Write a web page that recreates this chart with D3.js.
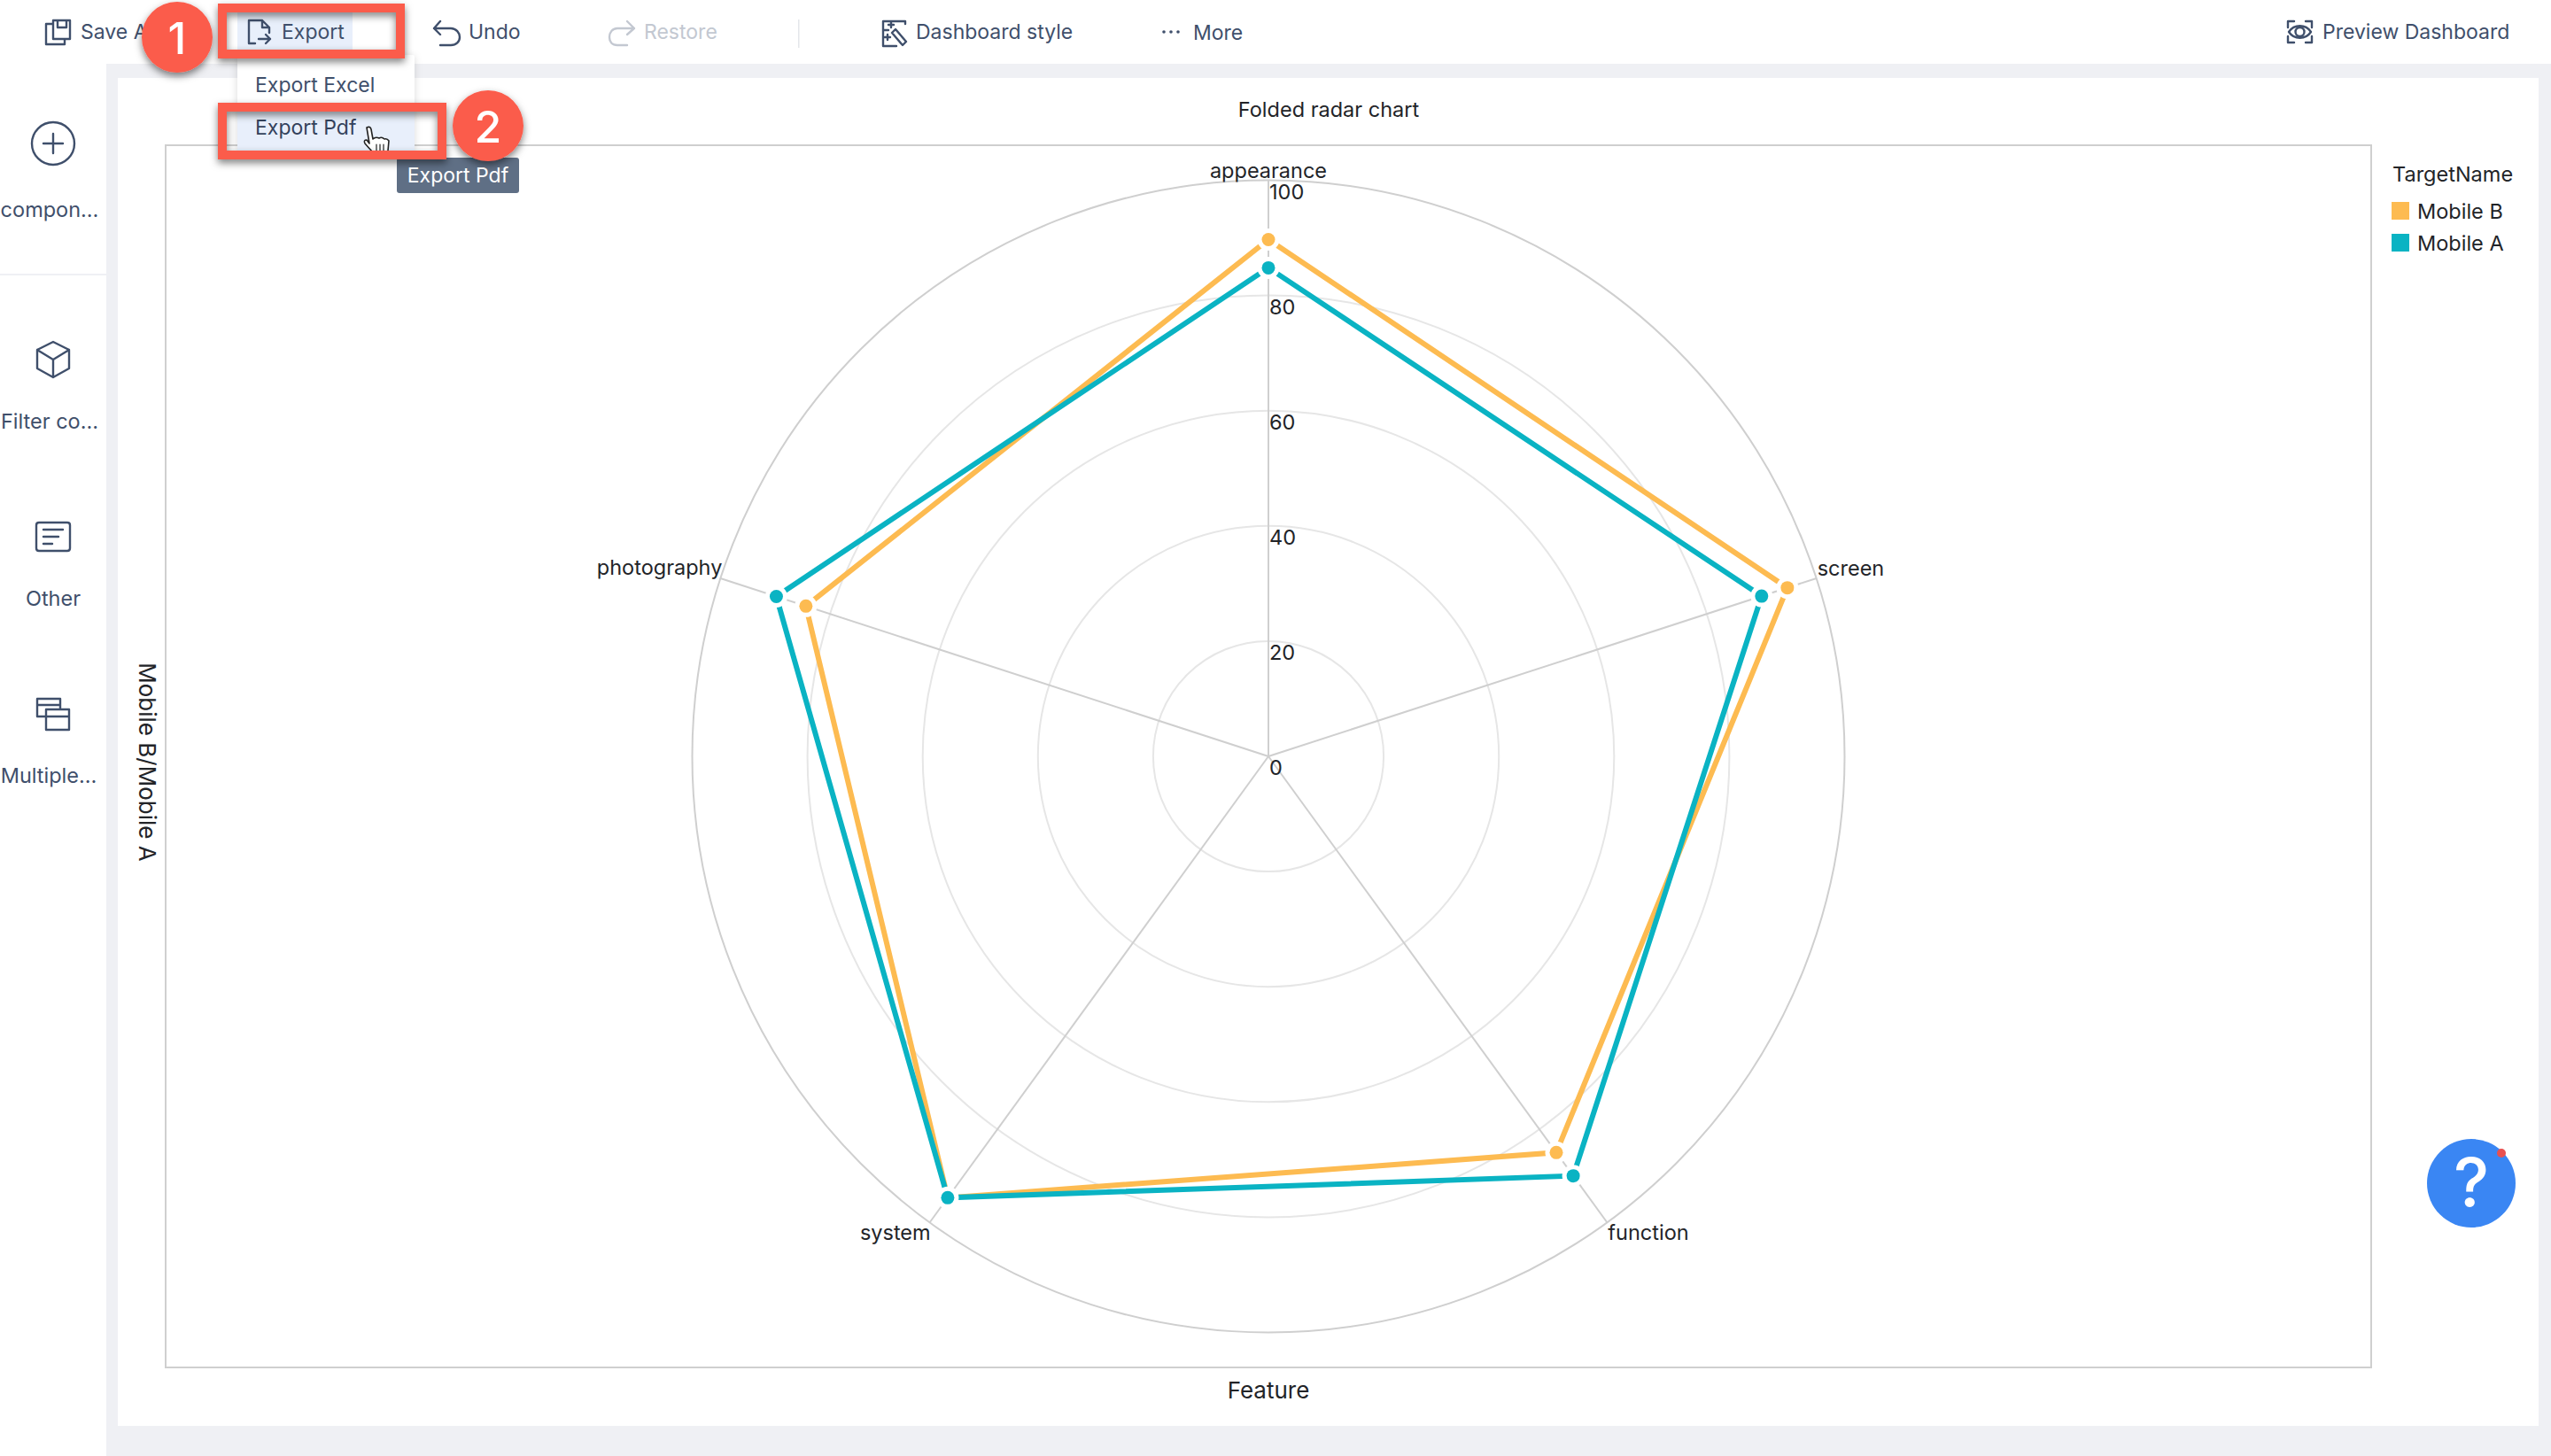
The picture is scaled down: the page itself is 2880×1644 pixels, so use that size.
<!DOCTYPE html>
<html><head><meta charset="utf-8">
<script src="https://cdnjs.cloudflare.com/ajax/libs/d3/7.8.5/d3.min.js"></script>
<style>html,body{margin:0;padding:0;background:#eff0f4}svg{display:block}text{font-family:Inter,"Noto Sans",sans-serif}</style>
</head><body><svg id="c" width="2880" height="1644" viewBox="0 0 2880 1644"></svg>
<script>
const chartTitle = "Folded radar chart";
const xAxisTitle = "Feature";
const yAxisTitle = "Mobile B/Mobile A";
const legendTitle = "TargetName";
const features = ["appearance", "screen", "function", "system", "photography"];
const seriesNames = ["Mobile B", "Mobile A"];
const mobileB = [89.7, 94.7, 85, 94.7, 84.4];
const mobileA = [84.8, 90, 90, 94.7, 89.8];
const radialTicks = [0, 20, 40, 60, 80, 100];
const seriesColors = ["#fdbb51", "#0ab3c3"];
const toolbarItems = [["Save A", 91, "#3f4f6b"], ["Export", 318, "#3f4f6b"], ["Undo", 529, "#3f4f6b"], ["Restore", 727, "#c3c8d1"], ["Dashboard style", 1034, "#3f4f6b"], ["More", 1347, "#3f4f6b"], ["Preview Dashboard", 2622, "#3f4f6b"]];
const sideItems = [["compon…", 237, 56], ["Filter co…", 476, 56], ["Other", 676, 60], ["Multiple…", 876, 55]];

const svg = d3.select("#c");
const ink = "#222428", nav = "#3f4f6b";
const chartFont = 23.5, navFont = 23, axisFont = 26;
const defs = svg.append("defs");
const mkShadow = (id, dy, blur, op) => {
  defs.append("filter").attr("id", id).attr("x", "-30%").attr("y", "-30%").attr("width", "160%").attr("height", "170%")
    .append("feDropShadow").attr("dx", 0).attr("dy", dy).attr("stdDeviation", blur).attr("flood-color", "#000").attr("flood-opacity", op);
};
mkShadow("shRed", 4, 4, 0.5);
mkShadow("shMenu", 1, 4, 0.15);

const rect = (g, x, y, w, h, fill, extra = {}) => {
  const r = g.append("rect").attr("x", x).attr("y", y).attr("width", w).attr("height", h).attr("fill", fill);
  Object.entries(extra).forEach(([k, v]) => r.attr(k, v));
  return r;
};
const txt = (g, s, x, y, size, fill, anchor = "start") => g.append("text").attr("x", x).attr("y", y).attr("dy", "0.35em")
  .attr("font-size", size).attr("fill", fill).attr("text-anchor", anchor).text(s);
const icon = (g, d, color = nav, w = 2.4) => g.append("path").attr("d", d).attr("fill", "none").attr("stroke", color)
  .attr("stroke-width", w).attr("stroke-linecap", "round").attr("stroke-linejoin", "round");

// page frame
const frame = svg.append("g");
rect(frame, 0, 0, 2880, 1644, "#eff0f4");
rect(frame, 0, 0, 2880, 72, "#ffffff");
rect(frame, 0, 72, 120, 1572, "#ffffff");
rect(frame, 133, 88, 2733, 1522, "#ffffff");
rect(frame, 0, 309, 120, 2, "#eff0f4");

// plot box
rect(frame, 187, 164, 2490, 1380, "none", {stroke: "#cfcfcf", "stroke-width": 2});
txt(frame, chartTitle, 1500, 124, chartFont, ink, "middle");
txt(frame, xAxisTitle, 1432, 1570, axisFont, ink, "middle");
frame.append("text").attr("transform", "translate(166.5,860.5) rotate(90)").attr("text-anchor", "middle").attr("dy", "0.35em")
  .attr("font-size", axisFont).attr("fill", ink).text(yAxisTitle);

// radar
const cx = 1432, cy = 854, outer = 650.5;
const rScale = d3.scaleLinear().domain([0, 100]).range([0, outer]);
const aScale = d3.scalePoint().domain(features).range([0, 2 * Math.PI * 4 / 5]);
const radar = svg.append("g").attr("transform", `translate(${cx},${cy})`);
const polar = (f, v) => [Math.sin(aScale(f)) * rScale(v), -Math.cos(aScale(f)) * rScale(v)];

radar.selectAll("circle.grid").data(radialTicks.filter(d => d > 0)).join("circle").attr("class", "grid")
  .attr("r", d => rScale(d)).attr("fill", "none").attr("stroke-width", 2)
  .attr("stroke", d => d === 100 ? "#cfcfcf" : "#e6e6e6");
radar.selectAll("line.spoke").data(features).join("line").attr("class", "spoke")
  .attr("x1", 0).attr("y1", 0).attr("x2", d => polar(d, 100)[0]).attr("y2", d => polar(d, 100)[1])
  .attr("stroke", "#cfcfcf").attr("stroke-width", 2);
radar.selectAll("text.tick").data(radialTicks).join("text").attr("class", "tick")
  .attr("x", 1).attr("y", d => -rScale(d) + 13).attr("dy", "0.35em").attr("font-size", chartFont).attr("fill", ink).text(d => d);

const labelOffset = {appearance: [0, -11, "middle"], screen: [1, -11.5, "start"], function: [1, 12, "start"], system: [1, 12, "end"], photography: [2, -12, "end"]};
radar.selectAll("text.feat").data(features).join("text").attr("class", "feat")
  .attr("x", d => polar(d, 100)[0] + labelOffset[d][0]).attr("y", d => polar(d, 100)[1] + labelOffset[d][1])
  .attr("dy", "0.35em").attr("text-anchor", d => labelOffset[d][2]).attr("font-size", chartFont).attr("fill", ink).text(d => d);

const radial = d3.lineRadial().angle(d => aScale(d.f)).radius(d => rScale(d.v)).curve(d3.curveLinearClosed);
const series = [mobileB, mobileA].map((vals, i) => ({name: seriesNames[i], color: seriesColors[i], pts: features.map((f, j) => ({f, v: vals[j]}))}));
const sg = radar.selectAll("g.series").data(series).join("g").attr("class", "series");
sg.append("path").attr("d", d => radial(d.pts)).attr("fill", "none").attr("stroke", d => d.color).attr("stroke-width", 6).attr("stroke-linejoin", "miter");
sg.each(function (d) {
  const g = d3.select(this);
  g.selectAll("circle.halo").data(d.pts).join("circle").attr("class", "halo").attr("r", 12.5).attr("fill", "#fff")
    .attr("cx", p => polar(p.f, p.v)[0]).attr("cy", p => polar(p.f, p.v)[1]);
  g.selectAll("circle.dot").data(d.pts).join("circle").attr("class", "dot").attr("r", 7.5).attr("fill", d.color)
    .attr("cx", p => polar(p.f, p.v)[0]).attr("cy", p => polar(p.f, p.v)[1]);
});

// legend
const legend = svg.append("g");
txt(legend, legendTitle, 2701, 197, chartFont, ink);
const ly = d3.scalePoint().domain(seriesNames).range([239, 275]);
legend.selectAll("rect.sw").data(seriesNames).join("rect").attr("class", "sw").attr("x", 2700).attr("y", d => ly(d) - 11)
  .attr("width", 20).attr("height", 20).attr("fill", (d, i) => seriesColors[i]);
legend.selectAll("text.lb").data(seriesNames).join("text").attr("class", "lb").attr("x", 2729).attr("y", d => ly(d))
  .attr("dy", "0.35em").attr("font-size", chartFont).attr("fill", ink).text(d => d);

// toolbar
const bar = svg.append("g");
rect(bar, 268, 14, 130, 42, "#e8effb");
toolbarItems.forEach(([s, x, c]) => txt(bar, s, x, s === "More" ? 37 : 36, navFont, c));
rect(bar, 901, 22, 1.5, 32, "#e4e6ea");
icon(bar, "M60 23H79V44H60ZM60 27H52V50H73V44M65 23V31H75V23");
icon(bar, "M296 23H281V49H288M296 23L304 31V37M296 23V31H304M292 44H305M300 39L305 44L300 49");
icon(bar, "M490 32H509C515 32 519 37 519 42C519 47 515 51 509 51H497M497 24L490 32L497 39");
icon(bar, "M716 32H697C691 32 688 37 688 42C688 47 691 51 697 51H708M708 24L716 32L708 39", "#c3c8d1");
icon(bar, "M1022 27V24H997V52H1012M997 34H1003M1011 33L1023 47L1019 51L1007 37ZM1006 25V31M1003 28H1009M1002 39V45M999 42H1005");
bar.selectAll("circle.dots").data([0, 1, 2]).join("circle").attr("class", "dots").attr("cx", d => 1314 + d * 8).attr("cy", 36).attr("r", 1.8).attr("fill", nav);
icon(bar, "M2583 31V24H2590M2603 24H2610V31M2610 41V48H2603M2590 48H2583V41M2584 36C2590 27 2603 27 2609 36C2603 45 2590 45 2584 36Z");
bar.append("circle").attr("cx", 2596.5).attr("cy", 36).attr("r", 5).attr("fill", "none").attr("stroke", nav).attr("stroke-width", 2.4);

// sidebar
const side = svg.append("g");
sideItems.forEach(([s, y, x]) => side.append("text").attr("x", x).attr("y", y).attr("dy", "0.35em").attr("text-anchor", "middle").attr("font-size", chartFont).attr("fill", nav).text(s));
side.append("circle").attr("cx", 60).attr("cy", 162).attr("r", 24).attr("fill", "none").attr("stroke", nav).attr("stroke-width", 2.4);
icon(side, "M60 151V173M49 162H71");
icon(side, "M60 386L78 395V416L60 426L42 416V395ZM42 395L60 406L78 395M60 406V426");
icon(side, "M44 590H76Q79 590 79 593V619Q79 622 76 622H44Q41 622 41 619V593Q41 590 44 590ZM49 598H71M49 606H66M49 614H59");
icon(side, "M51 809H42V789H68V801M42 796H68M52 801H78V824H52ZM52 809H78");

// dropdown + tooltip
const over = svg.append("g");
rect(over, 268, 62, 200, 112, "#ffffff", {filter: "url(#shMenu)", rx: 3});
rect(over, 268, 125, 200, 46, "#e8effb");
txt(over, "Export Excel", 288, 96, navFont, nav);
txt(over, "Export Pdf", 288, 144, navFont, "#34425c");
rect(over, 448, 178, 138, 40, "#5f6f85", {rx: 3});
txt(over, "Export Pdf", 517, 198, navFont, "#ffffff", "middle");
// hand cursor
over.append("path").attr("d", "M414 144Q418 142 419 146L421 157Q424 154 428 156Q431 154 434 157Q437 156 439 159L438 170Q437 172 436 173H422Q419 170 412 162Q410 158 414 158L417 162Z")
  .attr("fill", "#fff").attr("stroke", "#222").attr("stroke-width", 1.6).attr("stroke-linejoin", "round");
icon(over, "M425 163V171M429 163V171M433 163V171", "#222", 1.2);

// red callouts
const red = "#fb5b4b";
[[251, 9, 201, 52], [251, 121, 248, 54]].forEach(([x, y, w, h]) => {
  rect(over, x, y, w, h, "none", {stroke: red, "stroke-width": 10, filter: "url(#shRed)"});
});
[[200, 42, "1"], [551, 142, "2"]].forEach(([x, y, s]) => {
  over.append("circle").attr("cx", x).attr("cy", y).attr("r", 40).attr("fill", red).attr("filter", "url(#shRed)");
  txt(over, s, x, y + 1, 50, "#ffffff", "middle").attr("font-weight", 500);
});

// help button
const help = svg.append("g");
help.append("circle").attr("cx", 2790).attr("cy", 1336).attr("r", 50).attr("fill", "#3a86f3");
help.append("circle").attr("cx", 2824).attr("cy", 1302).attr("r", 5).attr("fill", "#e85050");
txt(help, "?", 2790, 1335, 76, "#ffffff", "middle").attr("font-weight", 500);
</script></body></html>
